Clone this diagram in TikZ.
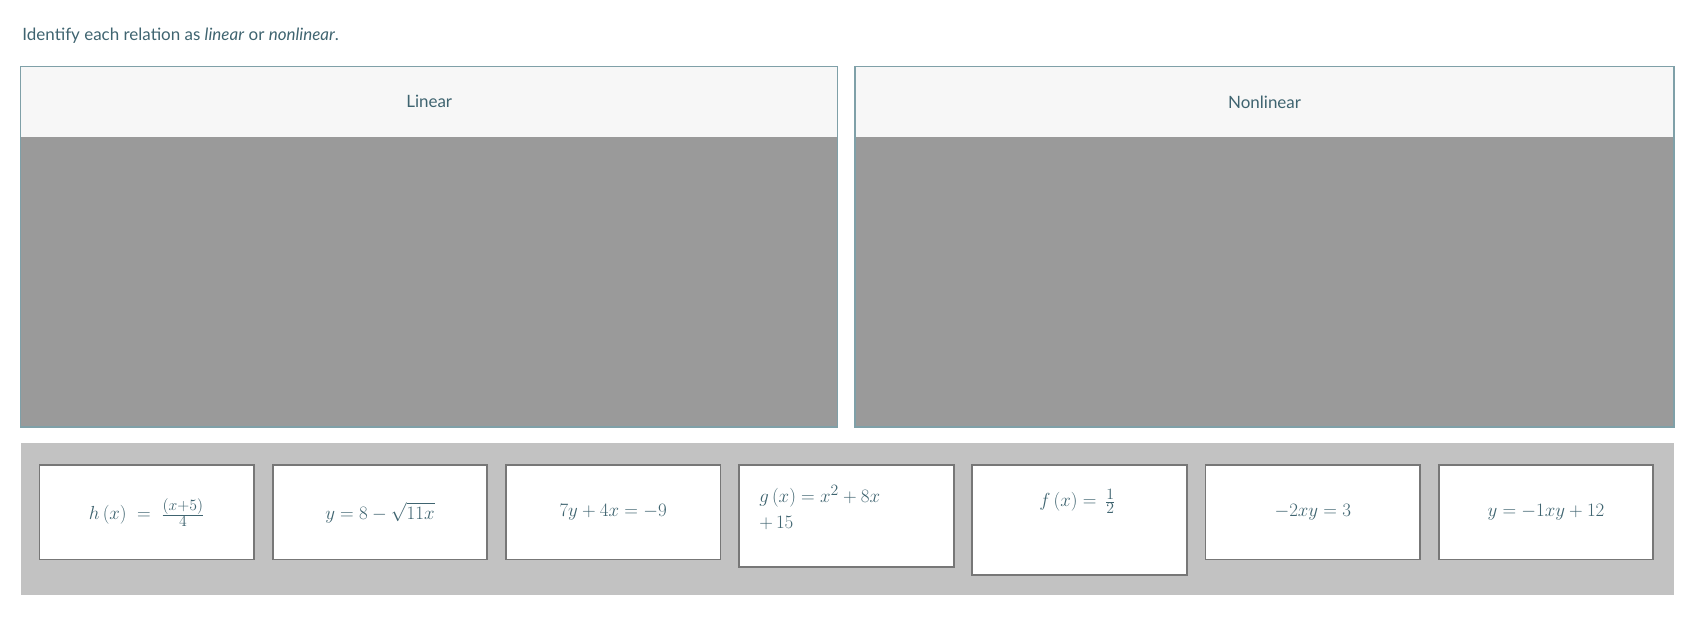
\documentclass[tikz,border=0pt]{standalone}
\usepackage{fontspec}
\setsansfont{Lato}
\definecolor{tx}{HTML}{3F6470}
\definecolor{bd}{HTML}{7FA0A8}
\definecolor{zone}{HTML}{9A9A9A}
\definecolor{hdr}{HTML}{F7F7F7}
\definecolor{strip}{HTML}{C2C2C2}
\definecolor{cb}{HTML}{777777}
\begin{document}
\begin{tikzpicture}[x=1pt,y=-1pt,
  card/.style={draw=cb,line width=1.6pt,fill=white,text=tx,font=\fontsize{19}{26}\selectfont},
  lab/.style={text=tx,font=\sffamily\fontsize{15.5}{18}\selectfont}]
\useasboundingbox (0,0) rectangle (1560,575);
\node[lab,anchor=west] (title) at (17,33) {Identify each relation as \textit{linear} or \textit{nonlinear}.};
% zones
\foreach \n/\a/\b/\t in {lin/19/765/Linear,non/781/1529/Nonlinear}{
  \fill[zone] (\a,61) rectangle (\b,390);
  \fill[hdr] (\a,61) rectangle (\b,125);
  \draw[bd,line width=1.2pt] (\a,61) rectangle (\b,390);
  \node[lab] (\n) at ({(\a+\b)/2},93) {\t};
}
\fill[strip] (19,405) rectangle (1529,543);
\node[card,minimum width=196pt,minimum height=86pt] (c1) at (134,468) {$h\left(x\right)\;=\;\frac{(x+5)}{4}$};
\node[card,minimum width=196pt,minimum height=86pt] (c2) at (347,468) {$y=8-\sqrt{11x}$};
\node[card,minimum width=196pt,minimum height=86pt] (c3) at (560,468) {$7y+4x=-9$};
\draw[cb,line width=1.6pt,fill=white] (675,425) rectangle (871,518);
\node[text=tx,anchor=north west,font=\fontsize{19}{26}\selectfont,align=left] (c4) at (690,440) {$g\,(x)=x^2+8x$\\[-2pt]$+\,15$};
\draw[cb,line width=1.6pt,fill=white] (888,425) rectangle (1084,525);
\node[text=tx,font=\fontsize{19}{26}\selectfont] (c5) at (984,458) {$f\,(x)=\,\frac{1}{2}$};
\node[card,minimum width=196pt,minimum height=86pt] (c6) at (1199,468) {$-2xy=3$};
\node[card,minimum width=196pt,minimum height=86pt] (c7) at (1412,468) {$y=-1xy+12$};
\end{tikzpicture}
\end{document}
